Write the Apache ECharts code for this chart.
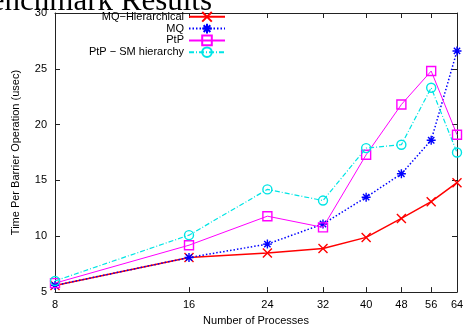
<!DOCTYPE html>
<html>
<head>
<meta charset="utf-8">
<script src="https://cdn.jsdelivr.net/npm/echarts@6/dist/echarts.min.js"></script>
<style>
html,body{margin:0;padding:0;background:#fff;}
#c{width:474px;height:331px;}
</style>
</head>
<body>
<div id="c"></div>
<script>
const procs = [8, 16, 24, 32, 40, 48, 56, 64];
const xTicks = [8, 16, 24, 32, 40, 48, 56, 64];
const yTicks = [5, 10, 15, 20, 25, 30];
const seriesNames = ['MQ\u2212Hierarchical', 'MQ', 'PtP', 'PtP \u2212 SM hierarchy'];
const mqHier = [5.6, 8.1, 8.5, 8.9, 9.9, 11.6, 13.1, 14.8];
const mq = [5.6, 8.1, 9.3, 11.1, 13.5, 15.6, 18.6, 26.6];
const ptp = [5.8, 9.2, 11.8, 10.8, 17.3, 21.8, 24.8, 19.1];
const ptpSM = [6.0, 10.1, 14.2, 13.2, 17.9, 18.2, 23.3, 17.5];
const titleText = 'Benchmark Results';

const values = [mqHier, mq, ptp, ptpSM];
const colors = ['#ff0000', '#0000ff', '#ff00ff', '#00e5e5'];
const symbols = [
  'path://M0 0 L10 10 M10 0 L0 10',
  'path://M0 5 L10 5 M5 0 L5 10 M1.5 1.5 L8.5 8.5 M8.5 1.5 L1.5 8.5',
  'path://M0 0 L10 0 L10 10 L0 10 Z',
  'circle'
];
const lineTypes = ['solid', [1.5, 2], 'solid', [5, 2, 1, 2]];
const lineWidths = [1.5, 1.5, 1, 1.2];

const chart = echarts.init(document.getElementById('c'), null, {renderer: 'canvas'});
const font = 'Liberation Sans';
const axisCol = '#222';

const series = seriesNames.map((n, i) => ({
  name: n,
  type: 'line',
  data: procs.map((p, j) => [p, values[i][j]]),
  symbol: symbols[i],
  symbolSize: 9,
  showAllSymbol: true,
  lineStyle: {color: colors[i], width: lineWidths[i], type: lineTypes[i]},
  itemStyle: {color: 'rgba(0,0,0,0)', borderColor: colors[i], borderWidth: 1.4},
  emphasis: {disabled: true},
  animation: false,
  z: 2 + i
}));

const legends = seriesNames.map((n, i) => ({
  data: [n],
  orient: 'vertical',
  align: 'right',
  right: 474 - 226,
  top: 11 + i * 11.8,
  itemWidth: 36,
  itemHeight: 12,
  padding: 0,
  selectedMode: false,
  textStyle: {fontFamily: font, fontSize: 11, color: '#000'}
}));

chart.setOption({
  backgroundColor: '#fff',
  animation: false,
  textStyle: {fontFamily: font},
  grid: {left: 55, right: 17, top: 13, bottom: 36, containLabel: false},
  legend: legends,
  graphic: [{
    type: 'text',
    style: {text: titleText, x: 212, y: 17, align: 'right', verticalAlign: 'bottom',
      font: '31px "Liberation Serif"', fill: '#000'},
    z: 100
  }],
  xAxis: [{
    type: 'log', logBase: 2, min: 8, max: 64,
    name: 'Number of Processes', nameLocation: 'middle', nameGap: 22,
    nameTextStyle: {fontFamily: font, fontSize: 11, color: '#000'},
    axisLine: {show: true, lineStyle: {color: axisCol}},
    axisTick: {show: true, inside: true, length: 5, customValues: xTicks, lineStyle: {color: axisCol}},
    minorTick: {show: false},
    axisLabel: {customValues: xTicks, fontSize: 11, color: '#000', margin: 7, fontFamily: font},
    splitLine: {show: false}
  }, {
    type: 'log', logBase: 2, min: 8, max: 64, position: 'top',
    axisLine: {show: true, lineStyle: {color: axisCol}},
    axisTick: {show: true, inside: true, length: 5, customValues: xTicks, lineStyle: {color: axisCol}},
    axisLabel: {show: false},
    splitLine: {show: false}
  }],
  yAxis: [{
    type: 'value', min: 5, max: 30, interval: 5,
    name: 'Time Per Barrier Operation (usec)', nameLocation: 'middle', nameGap: 34,
    nameTextStyle: {fontFamily: font, fontSize: 11, color: '#000'},
    axisLine: {show: true, lineStyle: {color: axisCol}},
    axisTick: {show: true, inside: true, length: 5, lineStyle: {color: axisCol}},
    axisLabel: {fontSize: 11, color: '#000', margin: 8, fontFamily: font, customValues: yTicks},
    splitLine: {show: false}
  }, {
    type: 'value', min: 5, max: 30, interval: 5, position: 'right',
    axisLine: {show: true, lineStyle: {color: axisCol}},
    axisTick: {show: true, inside: true, length: 5, lineStyle: {color: axisCol}},
    axisLabel: {show: false},
    splitLine: {show: false}
  }],
  series: series
});
</script>
</body>
</html>
